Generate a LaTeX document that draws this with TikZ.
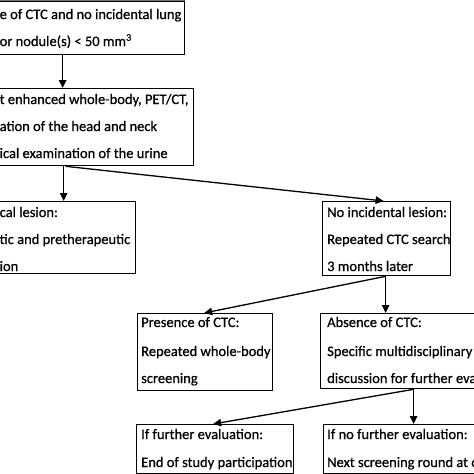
\documentclass[tikz,border=0pt]{standalone}
\usepackage{fontspec}
\setmainfont{Carlito}[FakeBold=0.35]
\newfontfamily\boxfont{Carlito}[FakeBold=0.6]
\usetikzlibrary{arrows.meta}
\tikzset{
  box/.style={draw=black, line width=1.3pt, rectangle, inner sep=0pt, anchor=north west},
  ln/.style={anchor=base west, inner sep=0pt, font=\boxfont\fontsize{14.5}{17}\selectfont},
  conn/.style={line width=1.3pt, -{Triangle[length=8pt,width=7.5pt]}}
}
\begin{document}
\begin{tikzpicture}[x=1pt,y=-1pt]
\useasboundingbox (0,0) rectangle (474,474);
\clip (0,0) rectangle (474,474);
\fill[white] (0,0) rectangle (474,474);
% boxes
\node[box, draw=black!55, minimum width=244pt, minimum height=54pt] (b1top) at (-60,0) {};
\node[box, minimum width=244pt, minimum height=53pt] (b1) at (-60,1) {};
\node[box, minimum width=260pt, minimum height=77pt] (b2) at (-67,88) {};
\node[box, minimum width=144pt, minimum height=72pt] (b3) at (-9,201) {};
\node[box, minimum width=128pt, minimum height=74pt] (b4) at (322,201) {};
\node[box, minimum width=135pt, minimum height=77pt] (b5) at (137,313) {};
\node[box, minimum width=186pt, minimum height=75pt] (b6) at (320,313) {};
\node[box, minimum width=157pt, minimum height=49pt] (b7) at (136,424) {};
\node[box, minimum width=200pt, minimum height=49pt] (b8) at (323,424) {};
% texts
\node[ln] (t1a) at (-0.5,19) {e of CTC and no incidental lung};
\node[ln] (t1b) at (-0.5,46) {or nodule(s) < 50 mm\textsuperscript{3}};
\node[ln] (t2a) at (-0.5,104) {t enhanced whole-body, PET/CT,};
\node[ln] (t2b) at (-0.5,131) {ation of the head and neck};
\node[ln] (t2c) at (-0.5,158) {ical examination of the urine};
\node[ln] (t3a) at (-0.5,217) {cal lesion:};
\node[ln] (t3b) at (-0.5,244) {tic and pretherapeutic};
\node[ln] (t3c) at (-0.5,271) {ion};
\node[ln] (t4a) at (327,217) {No incidental lesion:};
\node[ln] (t4b) at (327,244) {Repeated CTC search};
\node[ln] (t4c) at (327,271) {3 months later};
\node[ln] (t5a) at (141,327) {Presence of CTC:};
\node[ln] (t5b) at (141,356) {Repeated whole-body};
\node[ln] (t5c) at (141,383) {screening};
\node[ln] (t6a) at (327,327) {Absence of CTC:};
\node[ln] (t6b) at (327,356) {Specific multidisciplinary};
\node[ln] (t6c) at (327,383) {discussion for further eva};
\node[ln] (t7a) at (141,439) {If further evaluation:};
\node[ln] (t7b) at (141,467) {End of study participation};
\node[ln] (t8a) at (327,439) {If no further evaluation:};
\node[ln] (t8b) at (327,467) {Next screening round at o};
% connectors
\draw[conn] (b1.south) -- (b1.south |- b2.north);
\draw[conn] (b2.south) -- (b2.south |- b3.north);
\draw[conn] ([xshift=2pt]b2.south) -- ([xshift=-3pt]b4.north);
\draw[conn] ([xshift=-1pt]b4.south) -- ([xshift=-1pt]b4.south |- b6.north);
\draw[conn] ([xshift=-1pt]b4.south) -- ([xshift=-1pt]b5.north);
\draw[conn] (b6.south) -- (b6.south |- b8.north);
\draw[conn] (b6.south) -- ([xshift=-2pt]b7.north);
\end{tikzpicture}
\end{document}
